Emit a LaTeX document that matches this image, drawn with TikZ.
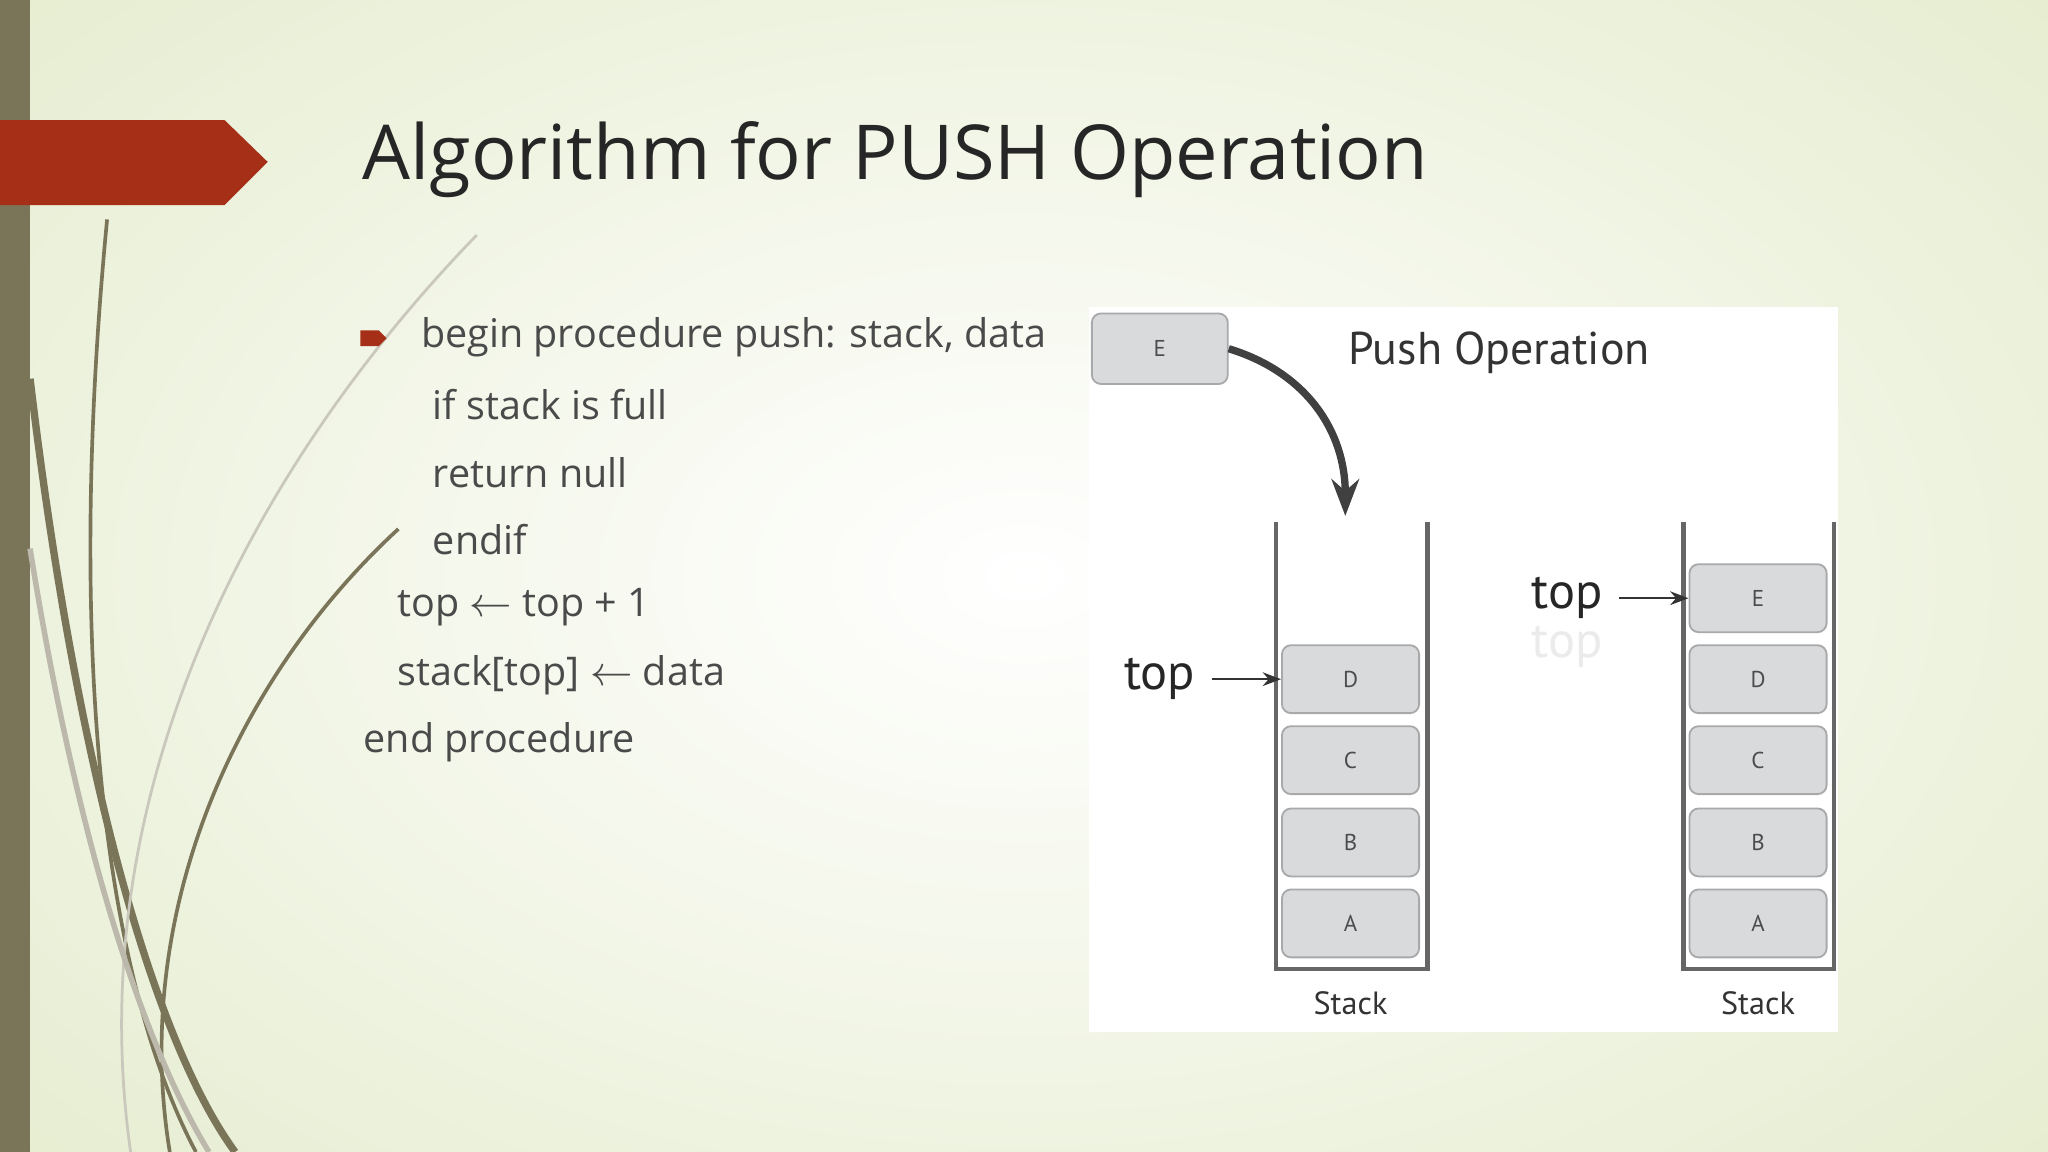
\documentclass[tikz,border=0pt]{standalone}
\usepackage{fontspec}
\setmainfont{Open Sans}
\newfontfamily\imgfont{PT Sans}
\usetikzlibrary{positioning, arrows.meta}
\definecolor{colorBar}{HTML}{7A7458}
\definecolor{colorRed}{HTML}{A63017}
\definecolor{colorText}{HTML}{4A4A4A}
\definecolor{colorBox}{HTML}{D9DADC}
\definecolor{colorEdge}{HTML}{A8A9AB}
\definecolor{colorBack}{HTML}{E3EBCB}
\tikzset{
  codeline/.style={anchor=west, text=colorText, font=\fontsize{8.6}{10}\selectfont},
  cell/.style={draw=colorEdge, fill=colorBox, rounded corners=2pt, minimum width=1.05cm, minimum height=0.52cm, font=\imgfont\fontsize{5}{6}\selectfont, text=black!70},
  toplabel/.style={font=\imgfont\fontsize{11}{12}\selectfont, text=black!85},
  caption/.style={font=\imgfont\fontsize{7}{8}\selectfont, text=black!80}
}
\begin{document}
\begin{tikzpicture}[x=0.01cm,y=-0.01cm]
        \useasboundingbox (0,0) rectangle (1568,882);
        % background
        \shade[inner color=white, outer color=colorBack] (-400,-300) rectangle (1968,1182);
        \fill[colorBar] (0,0) rectangle (23,882);
        \fill[colorRed] (0,92) -- (172,92) -- (205,124) -- (172,157) -- (0,157) -- cycle;
        % swooshes
        \draw[colorBar, line width=1.6pt] (23,290) .. controls (60,600) and (120,800) .. (180,882);
        \draw[colorBar, line width=0.8pt] (82,168) .. controls (50,500) and (80,750) .. (150,882);
        \draw[colorBar, line width=0.8pt] (305,405) .. controls (180,520) and (100,700) .. (130,882);
        \draw[colorBar!40, line width=0.6pt] (365,180) .. controls (200,350) and (60,600) .. (100,882);
        \draw[colorBar!50, line width=1.2pt] (23,420) .. controls (60,650) and (110,800) .. (160,882);
        % title
        \node[anchor=west, text=black!85, font=\fontsize{16.5}{20}\selectfont] (title) at (265,122) {Algorithm for PUSH Operation};
        % code
        \fill[colorRed] (276,253) -- (290,253) -- (296,259) -- (290,265) -- (276,265) -- cycle;
        \node[codeline] (l1) at (310,258) {begin procedure push: stack, data};
        \node[codeline] (l2) at (319,310) {if stack is full};
        \node[codeline] (l3) at (319,362) {return null};
        \node[codeline] (l4) at (319,413) {endif};
        \node[codeline] (l5) at (292,465) {top $\leftarrow$ top + 1};
        \node[codeline] (l6) at (292,517) {stack[top] $\leftarrow$ data};
        \node[codeline] (l7) at (266,568) {end procedure};
        % picture panel
        \fill[white] (834,235) rectangle (1407,790);
        \node[cell, minimum width=1.04cm, minimum height=0.54cm] (e) at (888,267) {E};
        \node[font=\imgfont\fontsize{10}{12}\selectfont, text=black!80] (head) at (1148,270) {Push Operation};
        \draw[black!75, line width=1.6pt, -{Stealth[length=8pt]}] (e.east) .. controls (1000,285) and (1030,330) .. (1030,395);
        % left stack
        \draw[black!60, line width=1pt] (977,400) -- (977,742) -- (1093,742) -- (1093,400);
        \node[cell] (ld) at (1034,520) {D};
        \node[cell] (lc) at (1034,582) {C};
        \node[cell] (lb) at (1034,645) {B};
        \node[cell] (la) at (1034,707) {A};
        \node[caption] (ls) at (1034,768) {Stack};
        \node[toplabel] (ltop) at (888,520) {top};
        \draw[black!80, -{Stealth[length=4pt]}] (ltop.east) -- (ld.west);
        % right stack
        \draw[black!60, line width=1pt] (1289,400) -- (1289,742) -- (1404,742) -- (1404,400);
        \node[cell] (re) at (1346,458) {E};
        \node[cell] (rd) at (1346,520) {D};
        \node[cell] (rc) at (1346,582) {C};
        \node[cell] (rb) at (1346,645) {B};
        \node[cell] (ra) at (1346,707) {A};
        \node[caption] (rs) at (1346,768) {Stack};
        \node[toplabel, text=black!8] (ghost) at (1200,495) {top};
        \node[toplabel] (rtop) at (1200,458) {top};
        \draw[black!80, -{Stealth[length=4pt]}] (rtop.east) -- (re.west);
    \end{tikzpicture}
\end{document}
